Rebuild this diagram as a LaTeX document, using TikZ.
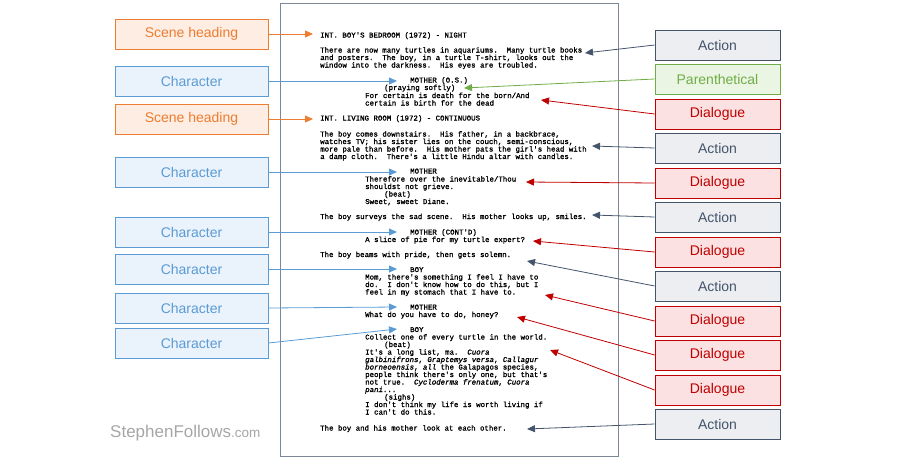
\documentclass[tikz,border=0pt]{standalone}
\usepackage{fontspec}
\setmainfont{Liberation Sans}
\newfontfamily\scrfont{Liberation Mono}[FakeBold=1.5]
\usetikzlibrary{arrows.meta}
\definecolor{orgline}{HTML}{ED7D31}
\definecolor{orgfill}{HTML}{FDEDE2}
\definecolor{chrline}{HTML}{5B9BD5}
\definecolor{chrfill}{HTML}{EAF2FB}
\definecolor{actline}{HTML}{44546A}
\definecolor{actfill}{HTML}{ECEEF1}
\definecolor{parline}{HTML}{70AD47}
\definecolor{parfill}{HTML}{EAF5E3}
\definecolor{dialine}{HTML}{C00000}
\definecolor{diafill}{HTML}{FBE1E1}
\newcommand\scrline[3]{\node[scr] (#1) at (#2) {#3};}
\begin{document}
\begin{tikzpicture}[x=1pt,y=-1pt,
  box/.style={draw, thick, minimum height=30pt, font=\fontsize{14}{16}\selectfont, inner sep=0pt},
  lbox/.style={box, minimum width=153pt},
  rbox/.style={box, minimum width=125pt},
  scene/.style={draw=orgline, fill=orgfill, text=orgline},
  chr/.style={draw=chrline, fill=chrfill, text=chrline},
  act/.style={draw=actline, fill=actfill, text=actline},
  par/.style={draw=parline, fill=parfill, text=parline},
  dia/.style={draw=dialine, fill=diafill, text=dialine},
  scr/.style={anchor=base west, inner sep=0pt, font=\scrfont\fontsize{7.4}{8}\selectfont},
  arr/.style={thick, -{Triangle[length=8pt,width=7pt]}}
]
\useasboundingbox (0,0) rectangle (900,461);
\node[draw=actline!70, thick, minimum width=338pt, minimum height=453pt, inner sep=0pt] (page) at (449,229.5) {};

% screenplay text
\scrline{s1}{320,37.5}{INT. BOY'S BEDROOM (1972) - NIGHT}
\scrline{s2}{320,52.5}{There are now many turtles in aquariums.~~Many turtle books}
\scrline{s3}{320,60}{and posters.~~The boy, in a turtle T-shirt, looks out the}
\scrline{s4}{320,67.5}{window into the darkness.~~His eyes are troubled.}
\scrline{s5}{410,82.5}{MOTHER (O.S.)}
\scrline{s6}{384,90}{(praying softly)}
\scrline{s7}{365,98}{For certain is death for the born/And}
\scrline{s8}{365,105.5}{certain is birth for the dead}
\scrline{s9}{320,120.5}{INT. LIVING ROOM (1972) - CONTINUOUS}
\scrline{s10}{320,136.5}{The boy comes downstairs.~~His father, in a backbrace,}
\scrline{s11}{320,144}{watches TV; his sister lies on the couch, semi-conscious,}
\scrline{s12}{320,151.5}{more pale than before.~~His mother pats the girl's head with}
\scrline{s13}{320,159}{a damp cloth.~~There's a little Hindu altar with candles.}
\scrline{s14}{410,173.5}{MOTHER}
\scrline{s15}{365,181.5}{Therefore over the inevitable/Thou}
\scrline{s16}{365,189}{shouldst not grieve.}
\scrline{s17}{384,196.5}{(beat)}
\scrline{s18}{365,204}{Sweet, sweet Diane.}
\scrline{s19}{320,219}{The boy surveys the sad scene.~~His mother looks up, smiles.}
\scrline{s20}{410,234.5}{MOTHER (CONT'D)}
\scrline{s21}{365,242}{A slice of pie for my turtle expert?}
\scrline{s22}{320,257}{The boy beams with pride, then gets solemn.}
\scrline{s23}{410,272}{BOY}
\scrline{s24}{365,279.5}{Mom, there's something I feel I have to}
\scrline{s25}{365,287}{do.~~I don't know how to do this, but I}
\scrline{s26}{365,294.5}{feel in my stomach that I have to.}
\scrline{s27}{410,309.5}{MOTHER}
\scrline{s28}{365,317}{What do you have to do, honey?}
\scrline{s29}{410,332}{BOY}
\scrline{s30}{365,339.5}{Collect one of every turtle in the world.}
\scrline{s31}{384,347}{(beat)}
\scrline{s32}{365,354.5}{It's a long list, ma.~~\textit{Cuora}}
\scrline{s33}{365,362}{\textit{galbinifrons}, \textit{Graptemys versa}, \textit{Callagur}}
\scrline{s34}{365,369.5}{\textit{borneoensis}, \textit{all} the Galapagos species,}
\scrline{s35}{365,377}{people think there's only one, but that's}
\scrline{s36}{365,384.5}{not true.~~\textit{Cycloderma frenatum}, \textit{Cuora}}
\scrline{s37}{365,392}{\textit{pani}...}
\scrline{s38}{384,399.5}{(sighs)}
\scrline{s39}{365,407}{I don't think my life is worth living if}
\scrline{s40}{365,414.5}{I can't do this.}
\scrline{s41}{320,430.5}{The boy and his mother look at each other.}

% left labels
\node[lbox, scene] (l1) at (191.5,34) {Scene heading};
\node[lbox, chr] (l2) at (191.5,81) {Character};
\node[lbox, scene] (l3) at (191.5,119) {Scene heading};
\node[lbox, chr] (l4) at (191.5,172) {Character};
\node[lbox, chr] (l5) at (191.5,232) {Character};
\node[lbox, chr] (l6) at (191.5,269) {Character};
\node[lbox, chr] (l7) at (191.5,308) {Character};
\node[lbox, chr] (l8) at (191.5,343) {Character};

% right labels
\node[rbox, act] (r1) at (717.5,45) {Action};
\node[rbox, par] (r2) at (717.5,79) {Parenthetical};
\node[rbox, dia] (r3) at (717.5,114) {Dialogue};
\node[rbox, act] (r4) at (717.5,148) {Action};
\node[rbox, dia] (r5) at (717.5,183) {Dialogue};
\node[rbox, act] (r6) at (717.5,217) {Action};
\node[rbox, dia] (r7) at (717.5,252) {Dialogue};
\node[rbox, act] (r8) at (717.5,286) {Action};
\node[rbox, dia] (r9) at (717.5,321) {Dialogue};
\node[rbox, dia] (r10) at (717.5,355) {Dialogue};
\node[rbox, dia] (r11) at (717.5,390) {Dialogue};
\node[rbox, act] (r12) at (717.5,424) {Action};

% arrow tips
\coordinate (tl1) at (313,34);
\coordinate (tl2) at (397,81);
\coordinate (tl3) at (313,119);
\coordinate (tl4) at (397,172);
\coordinate (tl5) at (397,232);
\coordinate (tl6) at (397,269);
\coordinate (tl7) at (397,307);
\coordinate (tl8) at (397,329);
\coordinate (tr1) at (585,53);
\coordinate (tr2) at (464,88);
\coordinate (tr3) at (541,100);
\coordinate (tr4) at (592,146);
\coordinate (tr5) at (526,182);
\coordinate (tr6) at (592,215);
\coordinate (tr7) at (533,241);
\coordinate (tr8) at (527,261);
\coordinate (tr9) at (545,295);
\coordinate (tr10) at (517,317);
\coordinate (tr11) at (550,350);
\coordinate (tr12) at (527,429);

\draw[arr, orgline] (l1.east) -- (tl1);
\draw[arr, chrline] (l2.east) -- (tl2);
\draw[arr, orgline] (l3.east) -- (tl3);
\foreach \i in {4,...,8} \draw[arr, chrline] (l\i.east) -- (tl\i);
\foreach \i in {1,4,6,8,12} \draw[arr, actline] (r\i.west) -- (tr\i);
\draw[arr, parline] (r2.west) -- (tr2);
\foreach \i in {3,5,7,9,10,11} \draw[arr, dialine] (r\i.west) -- (tr\i);

\node[anchor=base west, inner sep=0pt, text=black!35, font=\fontsize{17}{19}\selectfont] (wm) at (110,437) {StephenFollows\fontsize{13.5}{15}\selectfont.com};
\end{tikzpicture}
\end{document}
